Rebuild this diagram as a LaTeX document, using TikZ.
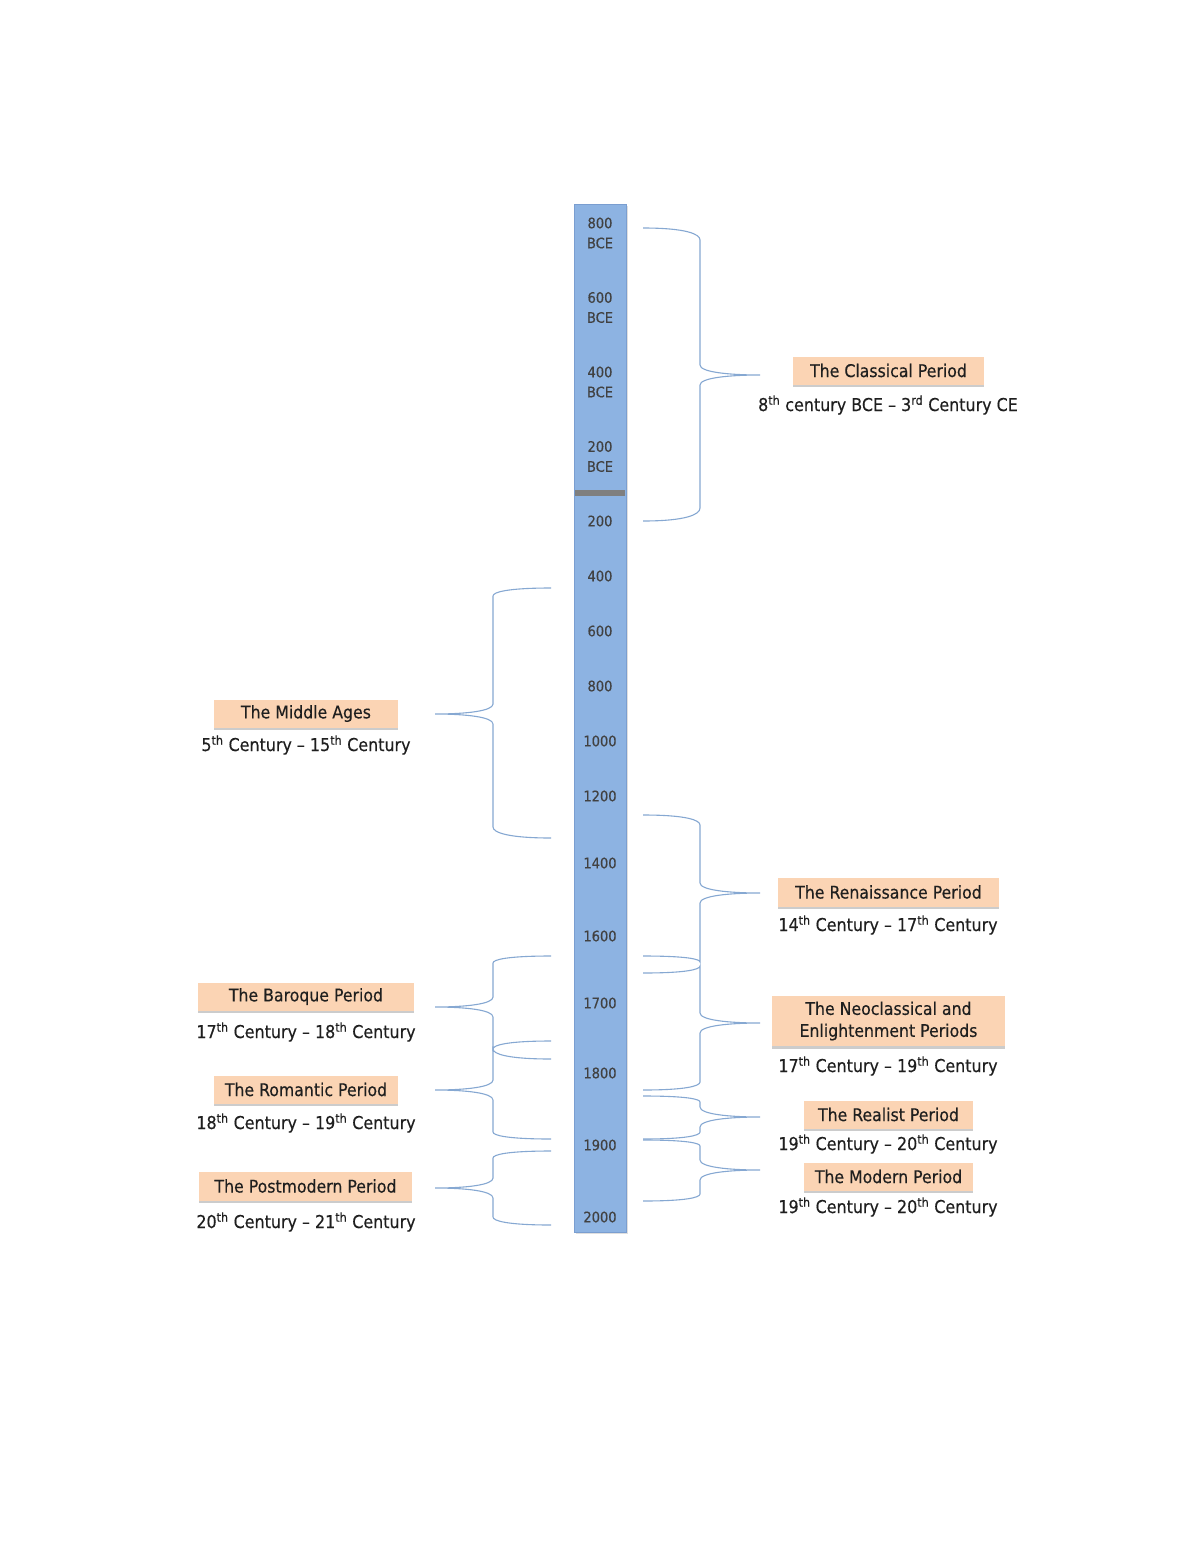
\documentclass[tikz,border=0pt]{standalone}
\usepackage{fontspec}
\setmainfont{DejaVu Sans Condensed}[FakeBold=0.35]
\usetikzlibrary{shadows}
\definecolor{barblue}{HTML}{8DB3E2}
\definecolor{baredge}{HTML}{7A9ED0}
\definecolor{sepgray}{HTML}{7F7F7F}
\definecolor{peach}{HTML}{FBD4B4}
\definecolor{bracecol}{HTML}{86A8D2}
\definecolor{txt}{HTML}{1F1F1F}
\newcommand\ord[1]{\textsuperscript{#1}}
\tikzset{
  barbox/.style={draw=baredge, line width=0.8pt, fill=barblue, inner sep=0pt,
    drop shadow={shadow xshift=1.5pt, shadow yshift=-1.5pt, opacity=0.25}},
  yearlbl/.style={text=txt!85, font=\fontsize{14.5}{20}\selectfont, align=center, inner sep=0pt},
  periodbox/.style={fill=peach, inner sep=0pt, text=txt, align=center,
    font=\fontsize{17.5}{22}\selectfont,
    drop shadow={shadow xshift=0pt, shadow yshift=-2.5pt, opacity=0.4}},
  datelbl/.style={text=txt, font=\fontsize{17.7}{22}\selectfont, inner sep=0pt},
  bracestyle/.style={draw=bracecol, line width=1.1pt}
}
% right brace: y_end_top, y_spine_top, y_tip, y_spine_bottom, y_end_bottom
\newcommand\brR[5]{\draw[bracestyle] (643,#1) .. controls (686,#1) and (700,{(#1+#2)/2}) .. (700,#2) -- (700,#3-10) .. controls (700,#3-3) and (728,#3) .. (760,#3) .. controls (728,#3) and (700,#3+3) .. (700,#3+10) -- (700,#4) .. controls (700,{(#4+#5)/2}) and (686,#5) .. (643,#5);}
\newcommand\brL[5]{\draw[bracestyle] (551,#1) .. controls (508,#1) and (493,{(#1+#2)/2}) .. (493,#2) -- (493,#3-10) .. controls (493,#3-3) and (466,#3) .. (435,#3) .. controls (466,#3) and (493,#3+3) .. (493,#3+10) -- (493,#4) .. controls (493,{(#4+#5)/2}) and (508,#5) .. (551,#5);}
\begin{document}
\begin{tikzpicture}[x=1pt,y=-1pt]
\useasboundingbox (0,0) rectangle (1200,1553);
\fill[white] (0,0) rectangle (1200,1553);
% timeline bar
\node[barbox, minimum width=52pt, minimum height=1028pt] (bar) at (600,718) {};
\fill[sepgray] (575,490) rectangle (625,496);
\node[yearlbl] (y800b) at (600,233) {800\\BCE};
\node[yearlbl] (y600b) at (600,307.5) {600\\BCE};
\node[yearlbl] (y400b) at (600,382) {400\\BCE};
\node[yearlbl] (y200b) at (600,456.5) {200\\BCE};
\node[yearlbl] (y200) at (600,521) {200};
\node[yearlbl] (y400) at (600,576) {400};
\node[yearlbl] (y600) at (600,631) {600};
\node[yearlbl] (y800) at (600,686) {800};
\node[yearlbl] (y1000) at (600,741) {1000};
\node[yearlbl] (y1200) at (600,796) {1200};
\node[yearlbl] (y1400) at (600,863) {1400};
\node[yearlbl] (y1600) at (600,936) {1600};
\node[yearlbl] (y1700) at (600,1003) {1700};
\node[yearlbl] (y1800) at (600,1073) {1800};
\node[yearlbl] (y1900) at (600,1145) {1900};
\node[yearlbl] (y2000) at (600,1217) {2000};
% period boxes, right
\node[periodbox, minimum width=191pt, minimum height=28pt] (cl) at (888.5,370.5) {The Classical Period};
\node[datelbl] (cld) at (888,405) {8\ord{th} century BCE – 3\ord{rd} Century CE};
\node[periodbox, minimum width=221pt, minimum height=29pt] (re) at (888.5,892) {The Renaissance Period};
\node[datelbl] (red) at (888,925) {14\ord{th} Century – 17\ord{th} Century};
\node[periodbox, minimum width=233pt, minimum height=50pt] (ne) at (888.5,1021) {The Neoclassical and\\Enlightenment Periods};
\node[datelbl] (ned) at (888,1066) {17\ord{th} Century – 19\ord{th} Century};
\node[periodbox, minimum width=169pt, minimum height=28pt] (rl) at (888.5,1114.5) {The Realist Period};
\node[datelbl] (rld) at (888,1144) {19\ord{th} Century – 20\ord{th} Century};
\node[periodbox, minimum width=169pt, minimum height=28pt] (mo) at (888.5,1176.5) {The Modern Period};
\node[datelbl] (mod) at (888,1207) {19\ord{th} Century – 20\ord{th} Century};
% period boxes, left
\node[periodbox, minimum width=184pt, minimum height=28pt] (ma) at (306,713.5) {The Middle Ages};
\node[datelbl] (mad) at (306,745) {5\ord{th} Century – 15\ord{th} Century};
\node[periodbox, minimum width=216pt, minimum height=28pt] (ba) at (306,996.5) {The Baroque Period};
\node[datelbl] (bad) at (306,1032) {17\ord{th} Century – 18\ord{th} Century};
\node[periodbox, minimum width=184pt, minimum height=28pt] (ro) at (306,1089.5) {The Romantic Period};
\node[datelbl] (rod) at (306,1123) {18\ord{th} Century – 19\ord{th} Century};
\node[periodbox, minimum width=213pt, minimum height=29pt] (pm) at (305.5,1186) {The Postmodern Period};
\node[datelbl] (pmd) at (306,1222) {20\ord{th} Century – 21\ord{th} Century};
% braces
\brR{228}{240}{375}{508}{521}
\brR{815}{825}{893}{962}{956}
\brR{973}{966}{1023}{1082}{1090}
\brR{1096}{1102}{1117}{1132}{1139}
\brR{1140}{1146}{1170}{1194}{1201}
\brL{588}{596}{714}{827}{838}
\brL{956}{963}{1007}{1049}{1041}
\brL{1059}{1049}{1090}{1132}{1139}
\brL{1151}{1158}{1188}{1217}{1225}
\end{tikzpicture}
\end{document}
